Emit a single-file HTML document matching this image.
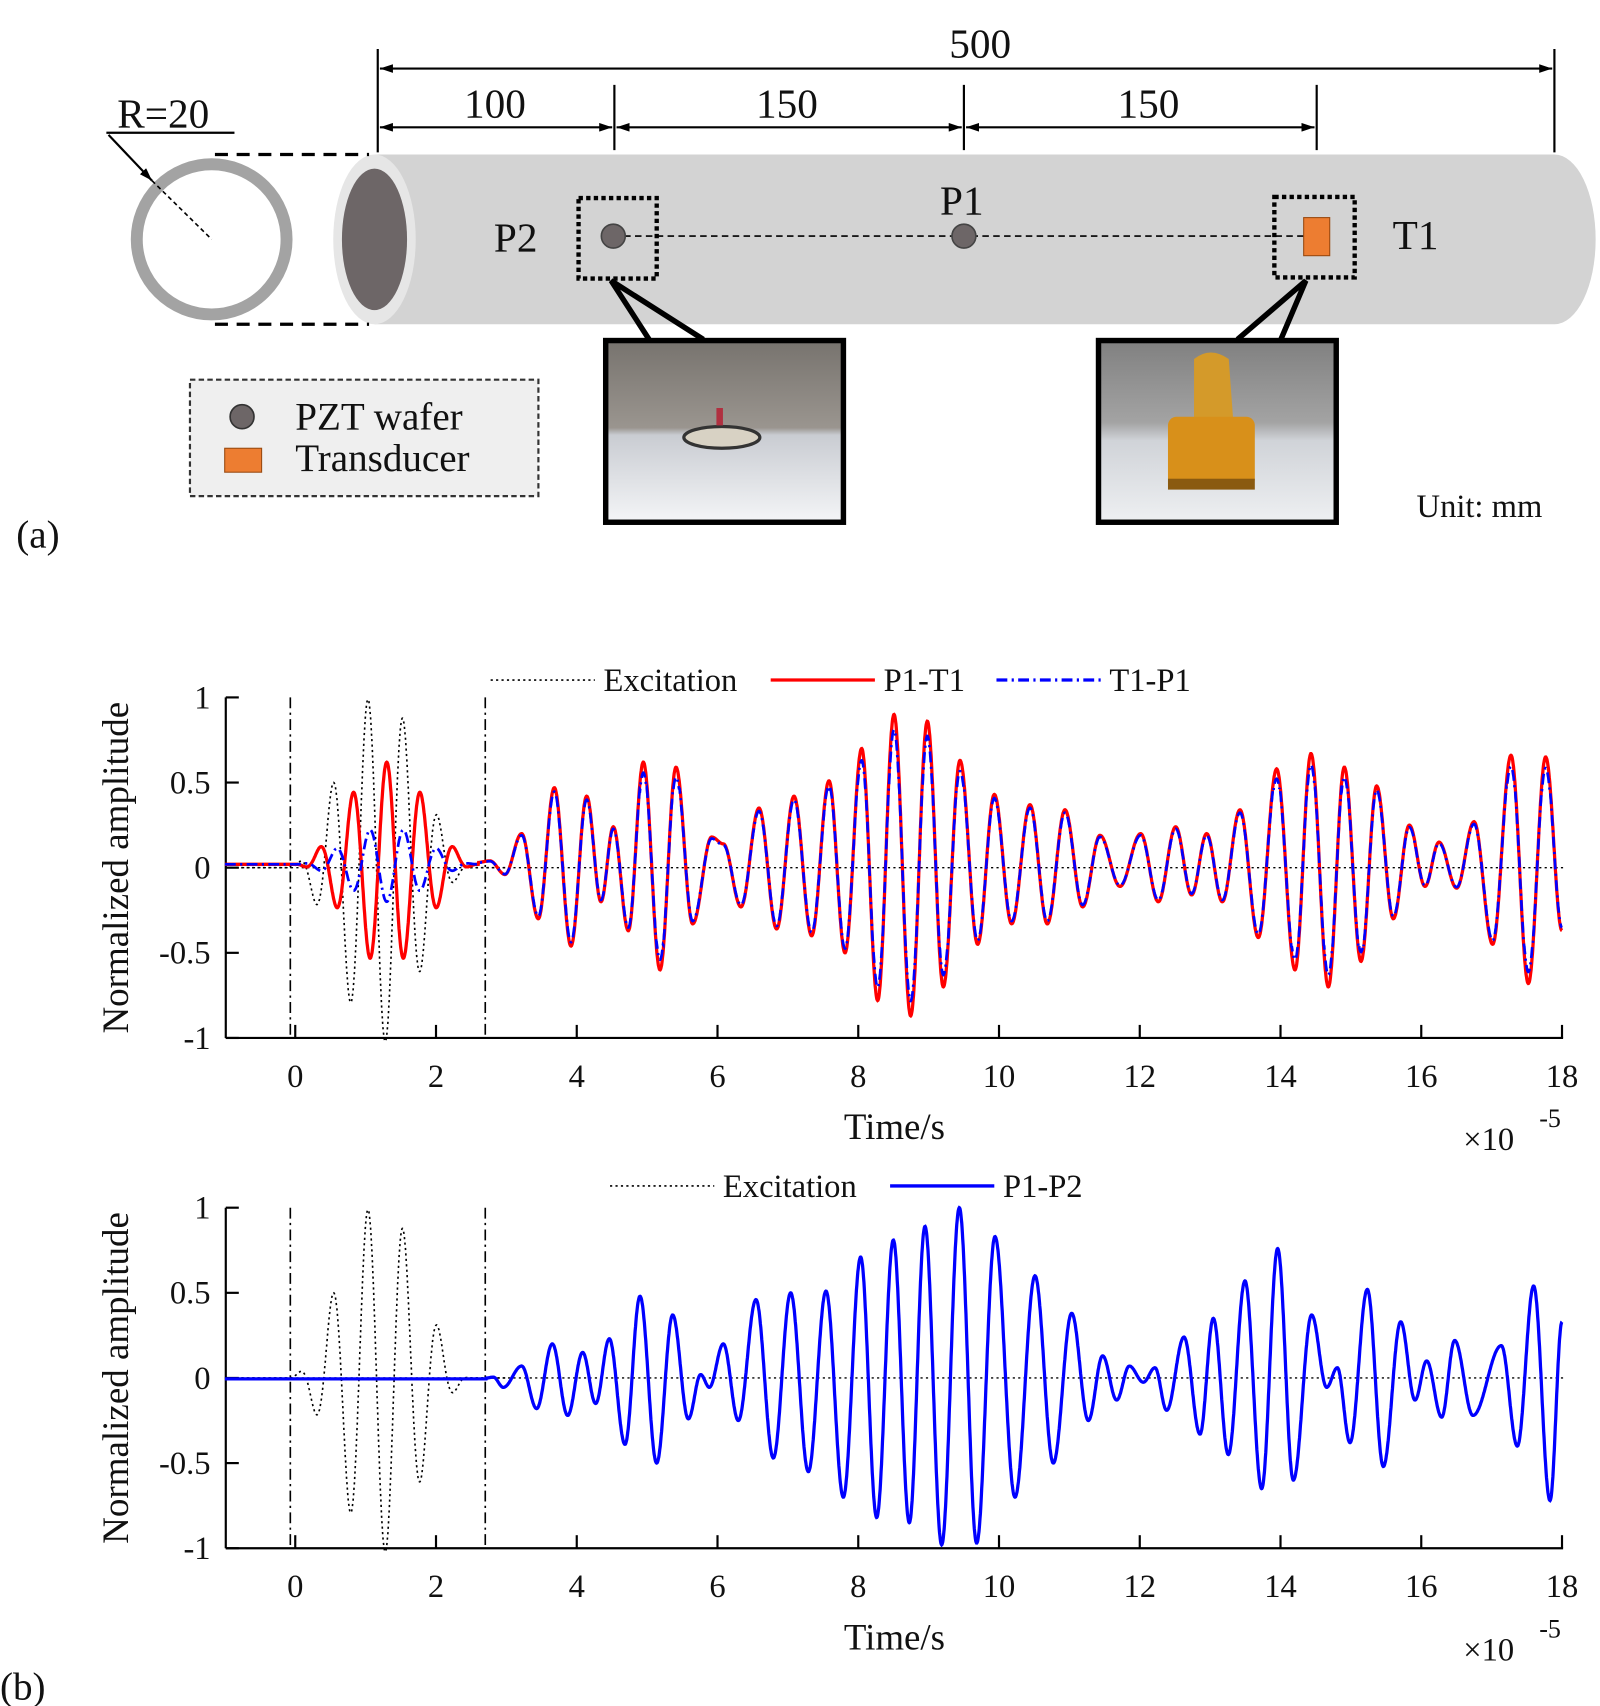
<!DOCTYPE html>
<html><head><meta charset="utf-8"><style>
html,body{margin:0;padding:0;background:#fff}
svg{display:block}
text{font-family:"Liberation Serif",serif;fill:#111}
</style></head><body>
<svg id="s" width="1600" height="1706" viewBox="0 0 1474 1568" preserveAspectRatio="none" xmlns="http://www.w3.org/2000/svg">
<defs>
<marker id="ar" markerWidth="12" markerHeight="8" refX="12" refY="4" orient="auto-start-reverse" markerUnits="userSpaceOnUse"><path d="M0,0 L12,4 L0,8 z" fill="#000"/></marker>
<linearGradient id="ph1" x1="0" y1="0" x2="0" y2="1"><stop offset="0" stop-color="#77736e"/><stop offset="0.48" stop-color="#9a958f"/><stop offset="0.52" stop-color="#c9ccd2"/><stop offset="1" stop-color="#f4f5f7"/></linearGradient>
<linearGradient id="ph2" x1="0" y1="0" x2="0" y2="1"><stop offset="0" stop-color="#808080"/><stop offset="0.45" stop-color="#a3a3a3"/><stop offset="0.55" stop-color="#d0d3d8"/><stop offset="1" stop-color="#eef0f2"/></linearGradient>
</defs>
<g stroke="#000" stroke-width="2" fill="none">
<line x1="348" y1="45" x2="348" y2="140"/><line x1="1432" y1="45" x2="1432" y2="140"/>
<line x1="566" y1="78" x2="566" y2="138"/><line x1="888" y1="78" x2="888" y2="138"/><line x1="1213" y1="78" x2="1213" y2="138"/>
<line x1="350" y1="63" x2="1430" y2="63" marker-start="url(#ar)" marker-end="url(#ar)"/>
<line x1="350" y1="117" x2="564" y2="117" marker-start="url(#ar)" marker-end="url(#ar)"/>
<line x1="568" y1="117" x2="886" y2="117" marker-start="url(#ar)" marker-end="url(#ar)"/>
<line x1="890" y1="117" x2="1211" y2="117" marker-start="url(#ar)" marker-end="url(#ar)"/>
</g>
<g font-size="38" text-anchor="middle">
<text x="903" y="53">500</text><text x="456" y="108">100</text><text x="725" y="108">150</text><text x="1058" y="108">150</text>
</g>
<path d="M345,142 H1432 A38,78 0 0 1 1432,298 H345 Z" fill="#d3d3d3"/>
<ellipse cx="345" cy="220" rx="38" ry="78" fill="#e6e6e6"/>
<ellipse cx="345" cy="220" rx="30" ry="65" fill="#6d6667"/>
<circle cx="195" cy="220" r="69" fill="#fff" stroke="#a3a3a3" stroke-width="11"/>
<g stroke="#000" stroke-width="3" stroke-dasharray="12,8"><line x1="198" y1="142" x2="340" y2="142"/><line x1="198" y1="298" x2="340" y2="298"/></g>
<text x="108" y="117" font-size="38">R=20</text>
<line x1="98" y1="122" x2="216" y2="122" stroke="#000" stroke-width="2"/>
<line x1="100" y1="124" x2="140" y2="166" stroke="#000" stroke-width="2" marker-end="url(#ar)"/>
<line x1="140" y1="166" x2="195" y2="220" stroke="#000" stroke-width="1.5" stroke-dasharray="4,3"/>
<line x1="565" y1="217" x2="1205" y2="217" stroke="#000" stroke-width="1.5" stroke-dasharray="6,4"/>
<rect x="533" y="182" width="72" height="74" fill="none" stroke="#000" stroke-width="4" stroke-dasharray="4,3"/>
<rect x="1174" y="181" width="74" height="74" fill="none" stroke="#000" stroke-width="4" stroke-dasharray="4,3"/>
<circle cx="565" cy="217" r="11" fill="#6d6667" stroke="#444" stroke-width="1.5"/>
<circle cx="888" cy="217" r="11" fill="#6d6667" stroke="#444" stroke-width="1.5"/>
<rect x="1201" y="200" width="24" height="35" fill="#ed7d31" stroke="#9a4a10" stroke-width="1"/>
<g font-size="38"><text x="455" y="231">P2</text><text x="866" y="197">P1</text><text x="1283" y="229">T1</text></g>
<g stroke="#000" stroke-width="5" fill="none">
<polyline points="598,312 563,258 648,312"/>
<polyline points="1140,312 1203,258 1180,312"/>
</g>
<rect x="558" y="313" width="219" height="167" fill="url(#ph1)" stroke="#000" stroke-width="5"/>
<ellipse cx="665" cy="402" rx="35" ry="10" fill="#d8d2c4" stroke="#333" stroke-width="3"/>
<rect x="660" y="375" width="6" height="16" fill="#b03040"/>
<rect x="1012" y="313" width="219" height="167" fill="url(#ph2)" stroke="#000" stroke-width="5"/>
<path d="M1100,330 Q1115,318 1132,330 L1136,385 L1100,385 Z" fill="#d49a2a"/>
<rect x="1076" y="383" width="80" height="65" rx="8" fill="#d8901a"/>
<rect x="1076" y="440" width="80" height="10" fill="#8a5a10"/>
<rect x="175" y="349" width="321" height="107" fill="#efefef" stroke="#333" stroke-width="2" stroke-dasharray="5,3"/>
<circle cx="223" cy="383" r="11" fill="#6d6667" stroke="#333" stroke-width="1.5"/>
<rect x="207" y="412" width="34" height="22" fill="#ed7d31" stroke="#9a4a10"/>
<g font-size="36"><text x="272" y="395">PZT wafer</text><text x="272" y="433">Transducer</text></g>
<text x="1305" y="475" font-size="30">Unit: mm</text>
<text x="15" y="503" font-size="36">(a)</text>
<text x="0" y="1562" font-size="36">(b)</text>
<g id="plots"></g>
</svg>
<script>
(function(){
var NS="http://www.w3.org/2000/svg",g=document.getElementById("plots");
function el(t,a,txt){var e=document.createElementNS(NS,t);for(var k in a)e.setAttribute(k,a[k]);if(txt!=null)e.textContent=txt;g.appendChild(e);return e;}
var X0=272,XS=(1439-272)/18;
function X(t){return X0+t*XS;}
function T(xv){return (xv-X0)/XS;}
function zt(zx){return T((440+zx/3)*0.92125);}
function exc(t){if(t<-0.1||t>2.5)return 0;var w=0.5*(1-Math.cos(2*Math.PI*(t+0.1)/2.6));return w*Math.cos(2*Math.PI*(t-1.03)/0.5)/0.97;}
function ext(list){var pts=list.map(function(p){return [zt(p[0]),p[1]];});
 return function(t){if(t<=pts[0][0])return pts[0][1];for(var i=1;i<pts.length;i++){if(t<=pts[i][0]){var a=pts[i-1],b=pts[i],s=(t-a[0])/(b[0]-a[0]);return a[1]+(b[1]-a[1])*(1-Math.cos(Math.PI*s))/2;}}return pts[pts.length-1][1];};}
function path(f,yT,yB,t0,t1){var y0=(yT+yB)/2,h=(yB-yT)/2,d="";for(var t=t0;t<=t1+1e-9;t+=0.005){var v=f(t);d+=(d?"L":"M")+X(t).toFixed(1)+","+(y0-v*h).toFixed(1);}return d;}
function axes(yT,yB){
 var y0=(yT+yB)/2;
 el("line",{x1:208,y1:yT,x2:208,y2:yB,stroke:"#000","stroke-width":2});
 el("line",{x1:208,y1:yB,x2:1440,y2:yB,stroke:"#000","stroke-width":2});
 [[1,"1"],[0.5,"0.5"],[0,"0"],[-0.5,"-0.5"],[-1,"-1"]].forEach(function(p){var y=y0-p[0]*(yB-yT)/2;
  el("line",{x1:208,y1:y,x2:220,y2:y,stroke:"#000","stroke-width":2});
  el("text",{x:194,y:y+10,"font-size":30,"text-anchor":"end"},p[1]);});
 for(var k=0;k<=18;k+=2){var x=X(k);el("line",{x1:x,y1:yB,x2:x,y2:yB-12,stroke:"#000","stroke-width":2});
  el("text",{x:x,y:yB+45,"font-size":30,"text-anchor":"middle"},String(k));}
 el("text",{x:824,y:yB+93,"font-size":34,"text-anchor":"middle"},"Time/s");
 el("text",{x:1348,y:yB+103,"font-size":30},"\u00d710");
 el("text",{x:1418,y:yB+82,"font-size":24},"-5");
 el("text",{x:0,y:0,"font-size":34,"text-anchor":"middle",transform:"translate(118,"+(y0)+") rotate(-90)"},"Normalized amplitude");
 el("line",{x1:208,y1:y0,x2:1440,y2:y0,stroke:"#000","stroke-width":1.3,"stroke-dasharray":"2,3"});
 [-0.07,2.7].forEach(function(t){el("line",{x1:X(t),y1:yT,x2:X(t),y2:yB,stroke:"#000","stroke-width":1.5,"stroke-dasharray":"10,4,2,4"});});
 el("path",{d:path(exc,yT,yB,-1,3),fill:"none",stroke:"#000","stroke-width":1.5,"stroke-dasharray":"2,3"});
}
var yT=641,yB=954;axes(yT,yB);
var L1=[[110,0.03],[150,0.04],[195,-0.04],[245,0.2],[295,-0.3],[343,0.47],[393,-0.46],[440,0.42],[483,-0.2],[520,0.24],[565,-0.37],[610,0.62],[660,-0.6],[708,0.59],[758,-0.33],[815,0.18],[850,0.14],[903,-0.23],[957,0.35],[1010,-0.36],[1062,0.42],[1115,-0.4],[1167,0.51],[1215,-0.5],[1265,0.7],[1313,-0.78],[1362,0.9],[1412,-0.87],[1462,0.86],[1510,-0.7],[1560,0.63],[1613,-0.45],[1663,0.43],[1715,-0.33],[1770,0.37],[1822,-0.33],[1875,0.34],[1928,-0.23],[1980,0.19],[2040,-0.11],[2102,0.2],[2155,-0.2],[2207,0.24],[2255,-0.16],[2300,0.2],[2347,-0.2],[2400,0.34],[2455,-0.41],[2510,0.58],[2565,-0.6],[2613,0.67],[2665,-0.7],[2713,0.59],[2763,-0.55],[2810,0.48],[2860,-0.3],[2908,0.25],[2955,-0.11],[2997,0.15],[3050,-0.12],[3102,0.27],[3158,-0.45],[3213,0.66],[3265,-0.68],[3317,0.65],[3366,-0.37]];
var r1=ext(L1);
function early(a){return function(t){if(t<0||t>2.6)return 0;var w=Math.sin(Math.PI*t/2.6);w=w*w;return a*w*Math.cos(2*Math.PI*(t-1.3)/0.48);};}
var e1=early(0.6),e2=early(-0.22);
var tS=zt(110);
function red(t){return t<2.6?e1(t)+0.02:(t<tS?0.03:r1(t));}
function blue(t){return t<2.6?e2(t)+0.02:(t<tS?0.03:r1(t)*(Math.abs(r1(t))>0.5?0.9:0.95));}
el("path",{d:path(red,yT,yB,-1,18),fill:"none",stroke:"#f00","stroke-width":3});
el("path",{d:path(blue,yT,yB,-1,18),fill:"none",stroke:"#00f","stroke-width":2.5,"stroke-dasharray":"10,4,2,4"});
el("line",{x1:452,y1:625,x2:548,y2:625,stroke:"#000","stroke-width":1.5,"stroke-dasharray":"2,3"});
el("text",{x:556,y:635,"font-size":30},"Excitation");
el("line",{x1:710,y1:625,x2:806,y2:625,stroke:"#f00","stroke-width":3});
el("text",{x:814,y:635,"font-size":30},"P1-T1");
el("line",{x1:918,y1:625,x2:1014,y2:625,stroke:"#00f","stroke-width":3,"stroke-dasharray":"10,4,2,4"});
el("text",{x:1022,y:635,"font-size":30},"T1-P1");
yT=1110;yB=1423;axes(yT,yB);
var L2=[[140,0],[160,0.005],[190,-0.055],[245,0.07],[290,-0.18],[337,0.2],[383,-0.22],[428,0.15],[467,-0.15],[508,0.23],[555,-0.39],[600,0.48],[650,-0.5],[698,0.37],[745,-0.24],[782,0.02],[808,-0.055],[850,0.2],[895,-0.25],[948,0.46],[1000,-0.47],[1052,0.5],[1105,-0.55],[1158,0.51],[1210,-0.7],[1262,0.71],[1310,-0.82],[1360,0.81],[1408,-0.85],[1455,0.89],[1505,-0.98],[1558,1.0],[1610,-0.97],[1665,0.83],[1725,-0.7],[1785,0.6],[1840,-0.5],[1895,0.38],[1945,-0.25],[1988,0.13],[2030,-0.13],[2068,0.07],[2110,-0.025],[2145,0.06],[2180,-0.19],[2232,0.24],[2280,-0.33],[2320,0.35],[2365,-0.45],[2415,0.57],[2465,-0.65],[2513,0.76],[2560,-0.6],[2615,0.37],[2660,-0.055],[2692,0.06],[2730,-0.38],[2782,0.52],[2830,-0.52],[2882,0.33],[2925,-0.13],[2960,0.1],[3005,-0.23],[3044,0.22],[3099,-0.22],[3184,0.19],[3232,-0.4],[3281,0.54],[3330,-0.72],[3366,0.33]];
var r2=ext(L2),tS2=zt(140);
function b2(t){return t<tS2?-0.005:r2(t);}
el("path",{d:path(b2,yT,yB,-1,18),fill:"none",stroke:"#00f","stroke-width":3});
el("line",{x1:562,y1:1090,x2:658,y2:1090,stroke:"#000","stroke-width":1.5,"stroke-dasharray":"2,3"});
el("text",{x:666,y:1100,"font-size":30},"Excitation");
el("line",{x1:820,y1:1090,x2:916,y2:1090,stroke:"#00f","stroke-width":3});
el("text",{x:924,y:1100,"font-size":30},"P1-P2");
})();
</script>
</body></html>
